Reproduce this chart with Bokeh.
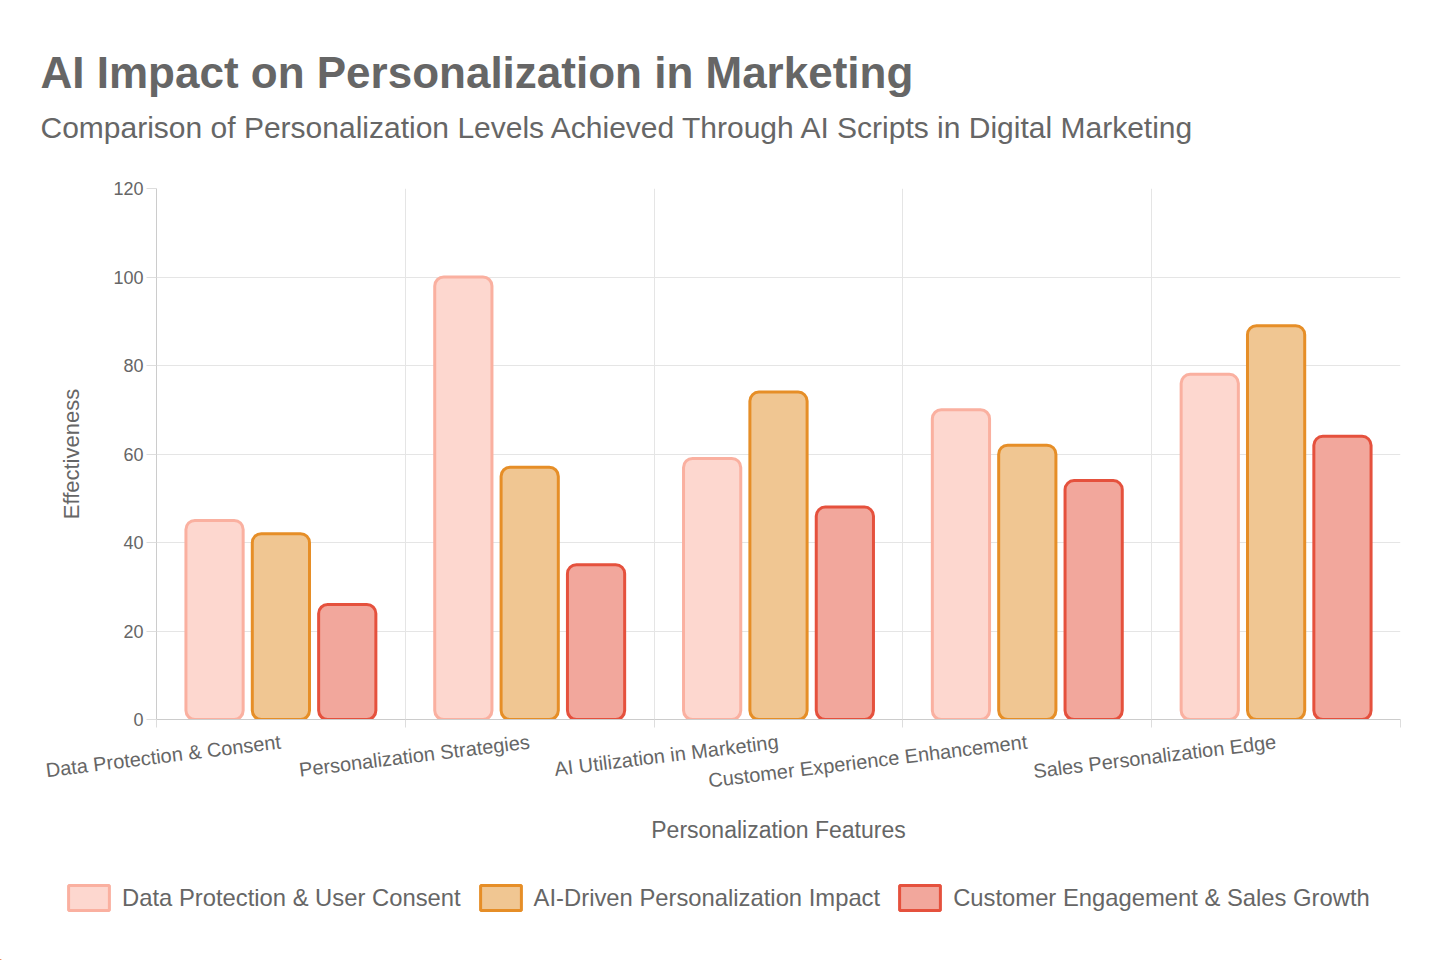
from bokeh.plotting import figure
from bokeh.layouts import column
from bokeh.models import Range1d, FixedTicker, Legend, LegendItem, Label, ColumnDataSource
from bokeh.embed import file_html
from bokeh.resources import INLINE

title_text = "AI Impact on Personalization in Marketing"
subtitle_text = "Comparison of Personalization Levels Achieved Through AI Scripts in Digital Marketing"
categories = ["Data Protection & Consent", "Personalization Strategies",
              "AI Utilization in Marketing", "Customer Experience Enhancement",
              "Sales Personalization Edge"]
series_names = ["Data Protection & User Consent", "AI-Driven Personalization Impact",
                "Customer Engagement & Sales Growth"]
data_protection = [45, 100, 59, 70, 78]
ai_driven = [42, 57, 74, 62, 89]
engagement = [26, 35, 48, 54, 64]
y_ticks = [0, 20, 40, 60, 80, 100, 120]

fills = ["#FDD7CF", "#F0C692", "#F2A79C"]
borders = ["#FAB0A0", "#E68E27", "#E5513D"]
TXT = "#666666"
FONT = "Liberation Sans"

n = len(categories)
idx = list(range(n))


def strip(h):
    f = figure(width=1440, height=h, x_range=Range1d(0, 1), y_range=Range1d(0, 1),
               output_backend="svg", toolbar_location=None, title=None,
               x_axis_location=None, y_axis_location=None,
               min_border_left=0, min_border_right=0, min_border_top=0, min_border_bottom=0)
    f.frame_align = False
    f.outline_line_color = None
    f.grid.visible = False
    f.border_fill_color = "white"
    f.background_fill_color = "white"
    return f


# header with title and subtitle
hd = strip(160)
hd.add_layout(Label(x=40, y=88, x_units="screen", y_units="screen", text=title_text,
                    text_font=FONT, text_font_size="44px", text_font_style="bold",
                    text_color=TXT, text_baseline="middle", text_align="left"))
hd.add_layout(Label(x=40, y=33, x_units="screen", y_units="screen", text=subtitle_text,
                    text_font=FONT, text_font_size="30px", text_font_style="normal",
                    text_color=TXT, text_baseline="middle", text_align="left"))

# main chart
p = figure(width=1440, height=700, x_range=Range1d(-0.5, n - 0.5), y_range=Range1d(0, 120),
           output_backend="svg", toolbar_location=None, title=None,
           min_border_left=156, min_border_right=40, min_border_top=28, min_border_bottom=141)
p.frame_align = False
p.outline_line_color = None
p.background_fill_color = "white"
p.border_fill_color = "white"

series = [data_protection, ai_driven, engagement]
offsets = [-0.2667, 0.0, 0.2667]
for s, vals in enumerate(series):
    src = ColumnDataSource(dict(x=[i + offsets[s] for i in idx], top=vals))
    p.vbar(x="x", top="top", bottom=0, width=0.23, source=src,
           fill_color=fills[s], line_color=borders[s], line_width=3, border_radius=9)

xa = p.xaxis[0]
xa.ticker = FixedTicker(ticks=idx, minor_ticks=[i - 0.5 for i in range(n + 1)])
xa.major_label_overrides = {i: c for i, c in zip(idx, categories)}
xa.major_label_orientation = 0.122
xa.major_tick_out = 0
xa.major_tick_in = 0
xa.minor_tick_out = 8
xa.minor_tick_in = 0
xa.minor_tick_line_color = "#dddddd"
xa.axis_line_color = "#cccccc"
xa.major_label_standoff = 14
xa.major_label_text_font = FONT
xa.major_label_text_font_size = "20px"
xa.major_label_text_color = TXT
xa.axis_label = "Personalization Features"
xa.axis_label_text_font = FONT
xa.axis_label_text_font_size = "23px"
xa.axis_label_text_font_style = "normal"
xa.axis_label_text_color = TXT
xa.axis_label_standoff = 12

ya = p.yaxis[0]
ya.ticker = FixedTicker(ticks=y_ticks)
ya.major_tick_out = 10
ya.major_tick_in = 0
ya.major_tick_line_color = "#dddddd"
ya.minor_tick_line_color = None
ya.axis_line_color = "#cccccc"
ya.major_label_standoff = 3
ya.major_label_text_font = FONT
ya.major_label_text_font_size = "18px"
ya.major_label_text_color = TXT
ya.axis_label = "Effectiveness"
ya.axis_label_text_font = FONT
ya.axis_label_text_font_size = "22px"
ya.axis_label_text_font_style = "normal"
ya.axis_label_text_color = TXT
ya.axis_label_standoff = 26

p.xgrid.ticker = FixedTicker(ticks=[i - 0.5 for i in range(n + 1)])
p.xgrid.grid_line_color = "#e5e5e5"
p.ygrid.ticker = FixedTicker(ticks=y_ticks)
p.ygrid.grid_line_color = "#e5e5e5"

# legend strip below the chart
lg = strip(100)
items = []
for s in range(len(series_names)):
    r = lg.vbar(x=[-10], top=[-10], width=0.1, fill_color=fills[s], line_color=borders[s], line_width=3)
    items.append(LegendItem(label=series_names[s], renderers=[r]))
legend = Legend(items=items, orientation="horizontal", location=(63, 47),
                glyph_width=51, glyph_height=31, label_standoff=8, spacing=14,
                label_text_font=FONT, label_text_font_size="23.8px", label_text_color=TXT,
                border_line_color=None, background_fill_alpha=0, margin=0, padding=10)
lg.add_layout(legend)

open("out.html", "w").write(file_html(column(hd, p, lg, spacing=0), INLINE))
